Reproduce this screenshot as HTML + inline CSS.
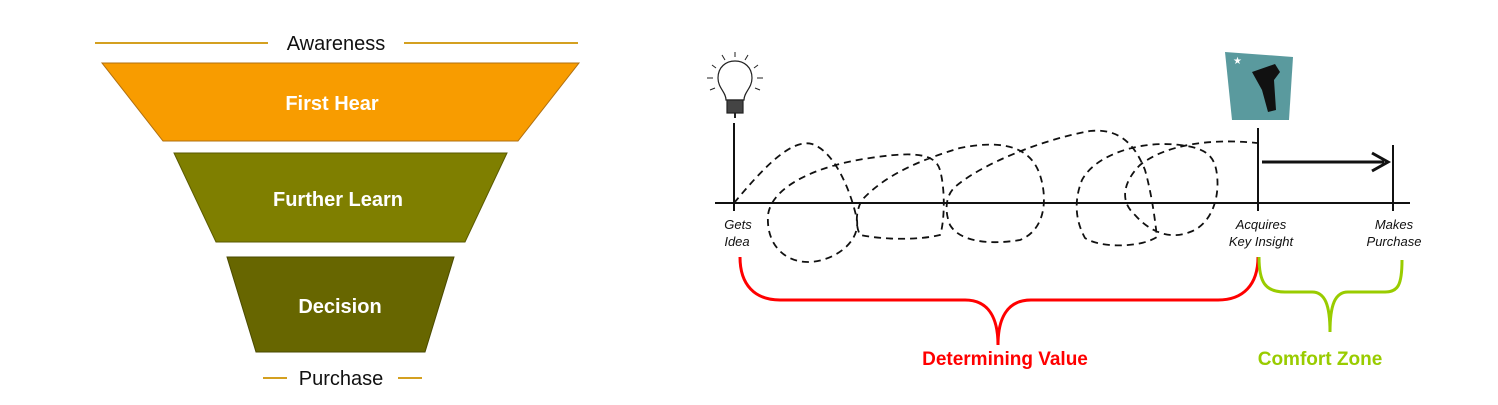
<!DOCTYPE html>
<html><head><meta charset="utf-8"><style>
html,body{margin:0;padding:0;background:#fff;}
svg{display:block}
</style></head><body>
<svg width="1498" height="405" viewBox="0 0 1498 405" xmlns="http://www.w3.org/2000/svg" font-family="Liberation Sans, Arial, sans-serif">
<!-- Funnel -->
<line x1="95" y1="43" x2="268" y2="43" stroke="#d4a020" stroke-width="2"/>
<line x1="404" y1="43" x2="578" y2="43" stroke="#d4a020" stroke-width="2"/>
<text x="336" y="50" font-size="20" text-anchor="middle" fill="#111">Awareness</text>
<polygon points="102,63 579,63 518,141 163,141" fill="#f89c00" stroke="#b07010" stroke-width="1"/>
<text x="332" y="110" font-size="20" font-weight="bold" text-anchor="middle" fill="#fff">First Hear</text>
<polygon points="174,153 507,153 465,242 216,242" fill="#7f7f00" stroke="#5a5a00" stroke-width="1"/>
<text x="338" y="206" font-size="20" font-weight="bold" text-anchor="middle" fill="#fff">Further Learn</text>
<polygon points="227,257 454,257 425,352 256,352" fill="#676600" stroke="#4a4a00" stroke-width="1"/>
<text x="340" y="313" font-size="20" font-weight="bold" text-anchor="middle" fill="#fff">Decision</text>
<line x1="263" y1="378" x2="287" y2="378" stroke="#d4a020" stroke-width="2"/>
<line x1="398" y1="378" x2="422" y2="378" stroke="#d4a020" stroke-width="2"/>
<text x="341" y="385" font-size="20" text-anchor="middle" fill="#111">Purchase</text>

<!-- Bulb -->
<g stroke="#222" fill="none" stroke-width="1.2">
<path d="M726,100 C726,92 718,88 718,78 C718,67 726,61 735,61 C744,61 752,67 752,78 C752,88 744,92 744,100 Z" fill="#fff"/>
<rect x="727" y="100" width="16" height="13" fill="#444"/>
<line x1="735" y1="113" x2="735" y2="118" stroke-width="2"/>
<g stroke-width="1">
<line x1="735" y1="52" x2="735" y2="57"/><line x1="722" y1="55" x2="725" y2="60"/><line x1="748" y1="55" x2="745" y2="60"/>
<line x1="712" y1="65" x2="716" y2="68"/><line x1="758" y1="65" x2="754" y2="68"/>
<line x1="707" y1="78" x2="713" y2="78"/><line x1="763" y1="78" x2="757" y2="78"/>
<line x1="710" y1="90" x2="715" y2="88"/><line x1="760" y1="90" x2="755" y2="88"/>
</g></g>
<!-- Picture -->
<polygon points="1225,52 1293,57 1289,120 1232,120" fill="#5a9a9e"/>
<path d="M1252,72 L1275,64 L1280,72 L1274,80 L1276,110 L1268,112 L1262,90 Z" fill="#111"/>
<text x="1233" y="64" font-size="10" fill="#fff">★</text>

<!-- Axis -->
<line x1="715" y1="203" x2="1410" y2="203" stroke="#111" stroke-width="2"/>
<line x1="734" y1="123" x2="734" y2="211" stroke="#111" stroke-width="2"/>
<line x1="1258" y1="128" x2="1258" y2="211" stroke="#111" stroke-width="2"/>
<line x1="1393" y1="145" x2="1393" y2="211" stroke="#111" stroke-width="2"/>
<line x1="1262" y1="162" x2="1384" y2="162" stroke="#111" stroke-width="3"/>
<path d="M1372,153 L1388,162 L1372,171" fill="none" stroke="#111" stroke-width="3"/>

<!-- Dashed loops -->
<g fill="none" stroke="#111" stroke-width="1.8" stroke-dasharray="7,5">
<path d="M734,203 C760,172 790,138 812,144 C836,152 852,195 857,220 C860,245 830,262 808,262 C785,262 766,245 768,215 C772,185 820,165 870,158 C910,152 935,152 940,170 C946,192 944,225 940,235 C920,240 885,240 860,235 C855,225 856,210 862,200 C885,175 920,160 960,148 C1000,140 1030,145 1040,175 C1048,200 1045,230 1020,240 C990,245 960,242 950,225 C944,210 946,195 955,187 C980,165 1040,140 1090,131 C1120,128 1135,145 1145,170 C1152,195 1155,220 1157,237 C1140,248 1100,248 1085,238 C1075,220 1074,200 1082,180 C1095,155 1140,140 1180,145 C1205,148 1215,155 1217,175 C1220,200 1210,225 1190,232 C1170,240 1150,232 1135,215 C1118,200 1125,180 1140,165 C1165,145 1210,138 1257,143"/>
</g>

<!-- Labels -->
<g font-size="13" font-style="italic" fill="#111" text-anchor="middle">
<text x="738" y="229">Gets</text><text x="737" y="246">Idea</text>
<text x="1261" y="229">Acquires</text><text x="1261" y="246">Key Insight</text>
<text x="1394" y="229">Makes</text><text x="1394" y="246">Purchase</text>
</g>

<!-- Braces -->
<path d="M740,257 C740,285 755,300 780,300 L965,300 C990,300 998,320 998,345 C998,320 1006,300 1031,300 L1218,300 C1243,300 1258,285 1258,257" fill="none" stroke="#f00" stroke-width="3"/>
<path d="M1259,257 C1259,282 1265,292 1285,292 L1312,292 C1325,292 1330,305 1330,332 C1330,305 1335,292 1348,292 L1385,292 C1398,292 1402,285 1402,260" fill="none" stroke="#99cc00" stroke-width="3"/>
<text x="1005" y="365" font-size="19" font-weight="bold" fill="#f00" text-anchor="middle">Determining Value</text>
<text x="1320" y="365" font-size="19" font-weight="bold" fill="#99cc00" text-anchor="middle">Comfort Zone</text>
</svg>
</body></html>
